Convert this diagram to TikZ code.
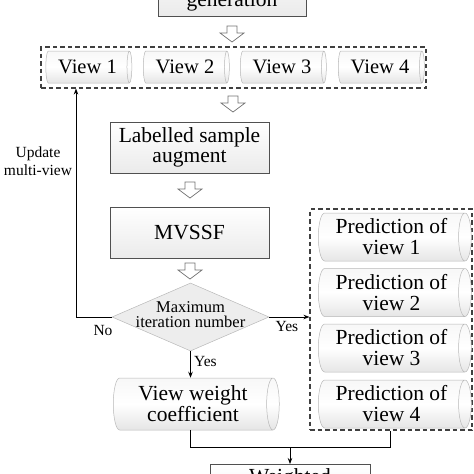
\documentclass[tikz,border=0pt]{standalone}
\usepackage{fontspec}
\setmainfont{Liberation Serif}
\usetikzlibrary{shapes.geometric,arrows.meta}
\definecolor{boxline}{HTML}{505050}
\definecolor{cylline}{HTML}{B8B8B8}
\tikzset{
  procbox/.style={draw=boxline, line width=0.8pt, top color=white, bottom color=black!8,
    minimum width=159pt, minimum height=51pt, inner sep=0pt, align=center,
    font=\fontsize{21.5}{20}\selectfont},
  cyl/.style={shape=cylinder, shape aspect=0.35, draw=cylline, line width=0.5pt,
    top color=black!3, bottom color=black!10, middle color=white, inner sep=0pt, align=center},
  viewcyl/.style={cyl, minimum height=86pt, minimum width=32pt, font=\fontsize{20.5}{20}\selectfont},
  predcyl/.style={cyl, minimum height=153pt, minimum width=48pt, font=\fontsize{21.5}{21}\selectfont},
  dashbox/.style={draw=black!75, line width=1.1pt, dash pattern=on 4.5pt off 3pt, inner sep=0pt},
  decision/.style={shape=diamond, draw=cylline, line width=0.5pt, fill=black!7,
    minimum width=157pt, minimum height=68pt, inner sep=0pt},
  lbl/.style={font=\fontsize{15.5}{18}\selectfont, align=center, inner sep=0pt},
  conn/.style={draw=black, line width=0.8pt, -{Stealth[length=6pt,width=4.5pt]}},
  plainline/.style={draw=black, line width=0.8pt},
  hollow/.pic={\draw[draw=black!55, fill=white, line width=0.7pt]
     (-5,0) -- (5,0) -- (5,7) -- (12,7) -- (0,16) -- (-12,7) -- (-5,7) -- cycle;}
}
\begin{document}
\begin{tikzpicture}[x=1pt,y=-1pt]
\useasboundingbox (0,0) rectangle (474,474);
\clip (0,0) rectangle (474,474);
% top box (cropped)
\node[procbox, minimum width=148pt, minimum height=60pt] (gen) at (232,-14) {};
\node[font=\fontsize{21.5}{20}\selectfont, anchor=base, inner sep=0pt] (gentxt) at (232,6) {generation};
\pic at (232,26) {hollow};
% views
\node[dashbox, minimum width=385pt, minimum height=41pt] (views) at (233.5,67.5) {};
\node[viewcyl] (v1) at (87.5,67) {View 1};
\node[viewcyl] (v2) at (185,67) {View 2};
\node[viewcyl] (v3) at (282,67) {View 3};
\node[viewcyl] (v4) at (380,67) {View 4};
\pic at (233,96) {hollow};
% process
\node[procbox] (aug) at (189.5,147.5) {Labelled sample\\augment};
\pic at (190,182) {hollow};
\node[procbox] (mv) at (189.5,232.5) {MVSSF};
\pic at (190,263) {hollow};
\node[decision] (dec) at (190.5,317) {};
\node[font=\fontsize{16.5}{15}\selectfont, align=center, inner sep=0pt] (dectxt) at (190.5,315) {Maximum\\iteration number};
% view weight
\node[cyl, minimum height=166pt, minimum width=52pt, font=\fontsize{21.5}{21}\selectfont] (vw) at (193,404) {View weight\\coefficient};
% predictions
\node[dashbox, minimum width=162pt, minimum height=221pt] (preds) at (391,319.5) {};
\node[predcyl] (p1) at (391.5,237) {Prediction of\\view 1};
\node[predcyl] (p2) at (391.5,292.5) {Prediction of\\view 2};
\node[predcyl] (p3) at (391.5,348) {Prediction of\\view 3};
\node[predcyl] (p4) at (391.5,404) {Prediction of\\view 4};
% weighted (cropped)
\node[procbox, minimum width=160pt, minimum height=60pt, anchor=north] (wt) at (290,464) {};
\node[font=\fontsize{21.5}{20}\selectfont, anchor=north, inner sep=0pt] (wttxt) at (290,468) {Weighted};
% connectors
\coordinate (nl) at (76,317);
\draw[conn] (dec.west) -- (nl) -- (nl |- views.south);
\draw[conn] (dec.east) -- (preds.west |- dec.east);
\draw[conn] (dec.south) -- (vw.north -| dec.south);
\coordinate (jl) at (190,447);
\coordinate (jr) at (390,447);
\coordinate (jm) at (290,447);
\draw[plainline] (vw.south -| jl) -- (jl) -- (jr) -- (jr |- preds.south);
\draw[conn] (jm) -- (wt.north);
% labels
\node[lbl] (upd) at (38,161) {Update\\multi-view};
\node[lbl] (no) at (103,330) {No};
\node[lbl] (yesr) at (287,326) {Yes};
\node[lbl, anchor=west] (yesd) at (194,361) {Yes};
\end{tikzpicture}
\end{document}
